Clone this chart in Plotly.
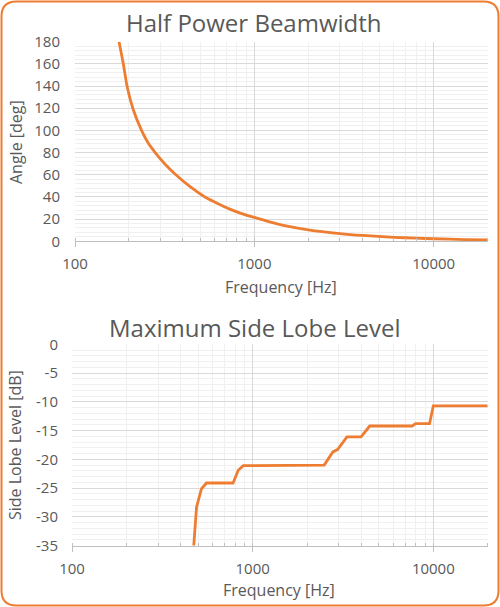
import plotly.graph_objects as go
import numpy as np

W, H = 500, 607

# Half power beamwidth
bw_freq = [176, 186, 195, 210, 235, 255, 280, 320, 365, 440, 530, 600, 730,
           850, 1000, 1200, 1500, 2000, 3000, 4000, 6000, 8000, 10000, 15000, 20000]
bw_angle = [180, 160, 140, 120, 100, 89, 80, 69, 60, 49, 40, 35.5, 29,
            25, 21.5, 17.8, 14, 10.4, 7.0, 5.3, 3.6, 2.8, 2.3, 1.6, 1.2]

# Maximum side lobe level
sl_freq = [472, 489, 521, 555, 779, 832, 887, 2489, 2780, 2950, 3326, 3981, 4446,
           7640, 7980, 9530, 10000, 20000]
sl_db = [-35, -28.3, -25.1, -24.1, -24.1, -21.9, -21.1, -21.0, -18.7, -18.3, -16.1,
         -16.1, -14.2, -14.2, -13.8, -13.8, -10.7, -10.7]

# tick labels
freq_ticks = [100, 1000, 10000]
freq_labels = ['100', '1000', '10000']
angle_ticks = [0, 20, 40, 60, 80, 100, 120, 140, 160, 180]
db_ticks = [0, -5, -10, -15, -20, -25, -30, -35]
db_labels = ['0', '-5', '-10', '-15', '-20', '-25', '-30', '-35']

orange = '#ED7D31'
text_col = '#595959'
font_family = 'Open Sans'


def px_x(x):
    return x / W


def px_y(y):
    return 1 - y / H


fig = go.Figure()
fig.add_trace(go.Scatter(x=bw_freq, y=bw_angle, mode='lines', xaxis='x', yaxis='y',
                         line=dict(color=orange, width=2.8, shape='spline', smoothing=0.6),
                         showlegend=False))
fig.add_trace(go.Scatter(x=sl_freq, y=sl_db, mode='lines', xaxis='x2', yaxis='y2',
                         line=dict(color=orange, width=2.8), showlegend=False))

xcommon = dict(
    type='log', range=[2, np.log10(20000)],
    tickvals=freq_ticks, ticktext=freq_labels,
    showgrid=True, gridcolor='#D9D9D9', gridwidth=1,
    showline=True, linecolor='#BFBFBF', linewidth=1,
    ticks='outside', ticklen=5, tickcolor='#BFBFBF', ticklabelstandoff=4,
    tickfont=dict(family=font_family, size=15, color=text_col),
    minor=dict(dtick='D1', showgrid=True, gridcolor='#F0F0F0', ticks='inside',
               ticklen=3, tickcolor='#BFBFBF'),
    zeroline=False, fixedrange=True, automargin=False,
)
ycommon = dict(
    showgrid=True, gridcolor='#D9D9D9', gridwidth=1, showline=False, zeroline=False,
    ticks='', tickfont=dict(family=font_family, size=15, color=text_col),
    fixedrange=True, automargin=False,
)

fig.update_layout(
    width=W, height=H,
    margin=dict(l=0, r=0, t=0, b=0),
    paper_bgcolor='white', plot_bgcolor='white',
    showlegend=False,
    xaxis=dict(xcommon, domain=[px_x(75), px_x(487.7)], anchor='y'),
    yaxis=dict(ycommon, domain=[px_y(241.3), px_y(41.7)], range=[0, 180],
               tickvals=angle_ticks, ticklabelstandoff=14,
               minor=dict(dtick=4, showgrid=True, gridcolor='#F0F0F0'), anchor='x'),
    xaxis2=dict(xcommon, domain=[px_x(72), px_x(487.7)], anchor='y2'),
    yaxis2=dict(ycommon, domain=[px_y(545.7), px_y(344.3)], range=[-35, 0],
                tickvals=db_ticks, ticktext=db_labels, ticklabelstandoff=13,
                minor=dict(dtick=1, showgrid=True, gridcolor='#F0F0F0'), anchor='x2'),
)

annos = [
    ('Half Power Beamwidth', 254, 22, 24, 0),
    ('Maximum Side Lobe Level', 254, 327, 24, 0),
    ('Frequency [Hz]', 281, 287, 16, 0),
    ('Frequency [Hz]', 279, 590, 16, 0),
    ('Angle [deg]', 16, 142, 16, -90),
    ('Side Lobe Level [dB]', 15, 445, 16, -90),
]
for text, x, y, size, angle in annos:
    fig.add_annotation(text=text, x=px_x(x), y=px_y(y), xref='paper', yref='paper',
                       xanchor='center', yanchor='middle', showarrow=False,
                       textangle=angle,
                       font=dict(family=font_family, size=size, color=text_col))

# rounded orange frame
x0, x1, y0, y1, r = 1.5, 498.5, 1.5, 605.5, 15
path = (f'M {px_x(x0 + r)},{px_y(y0)} L {px_x(x1 - r)},{px_y(y0)} '
        f'Q {px_x(x1)},{px_y(y0)} {px_x(x1)},{px_y(y0 + r)} '
        f'L {px_x(x1)},{px_y(y1 - r)} Q {px_x(x1)},{px_y(y1)} {px_x(x1 - r)},{px_y(y1)} '
        f'L {px_x(x0 + r)},{px_y(y1)} Q {px_x(x0)},{px_y(y1)} {px_x(x0)},{px_y(y1 - r)} '
        f'L {px_x(x0)},{px_y(y0 + r)} Q {px_x(x0)},{px_y(y0)} {px_x(x0 + r)},{px_y(y0)} Z')
fig.add_shape(type='path', path=path, xref='paper', yref='paper',
              line=dict(color=orange, width=2), layer='above')

fig.write_html('out.html', config={'displayModeBar': False},
               post_script="document.body.style.margin='0px';")
